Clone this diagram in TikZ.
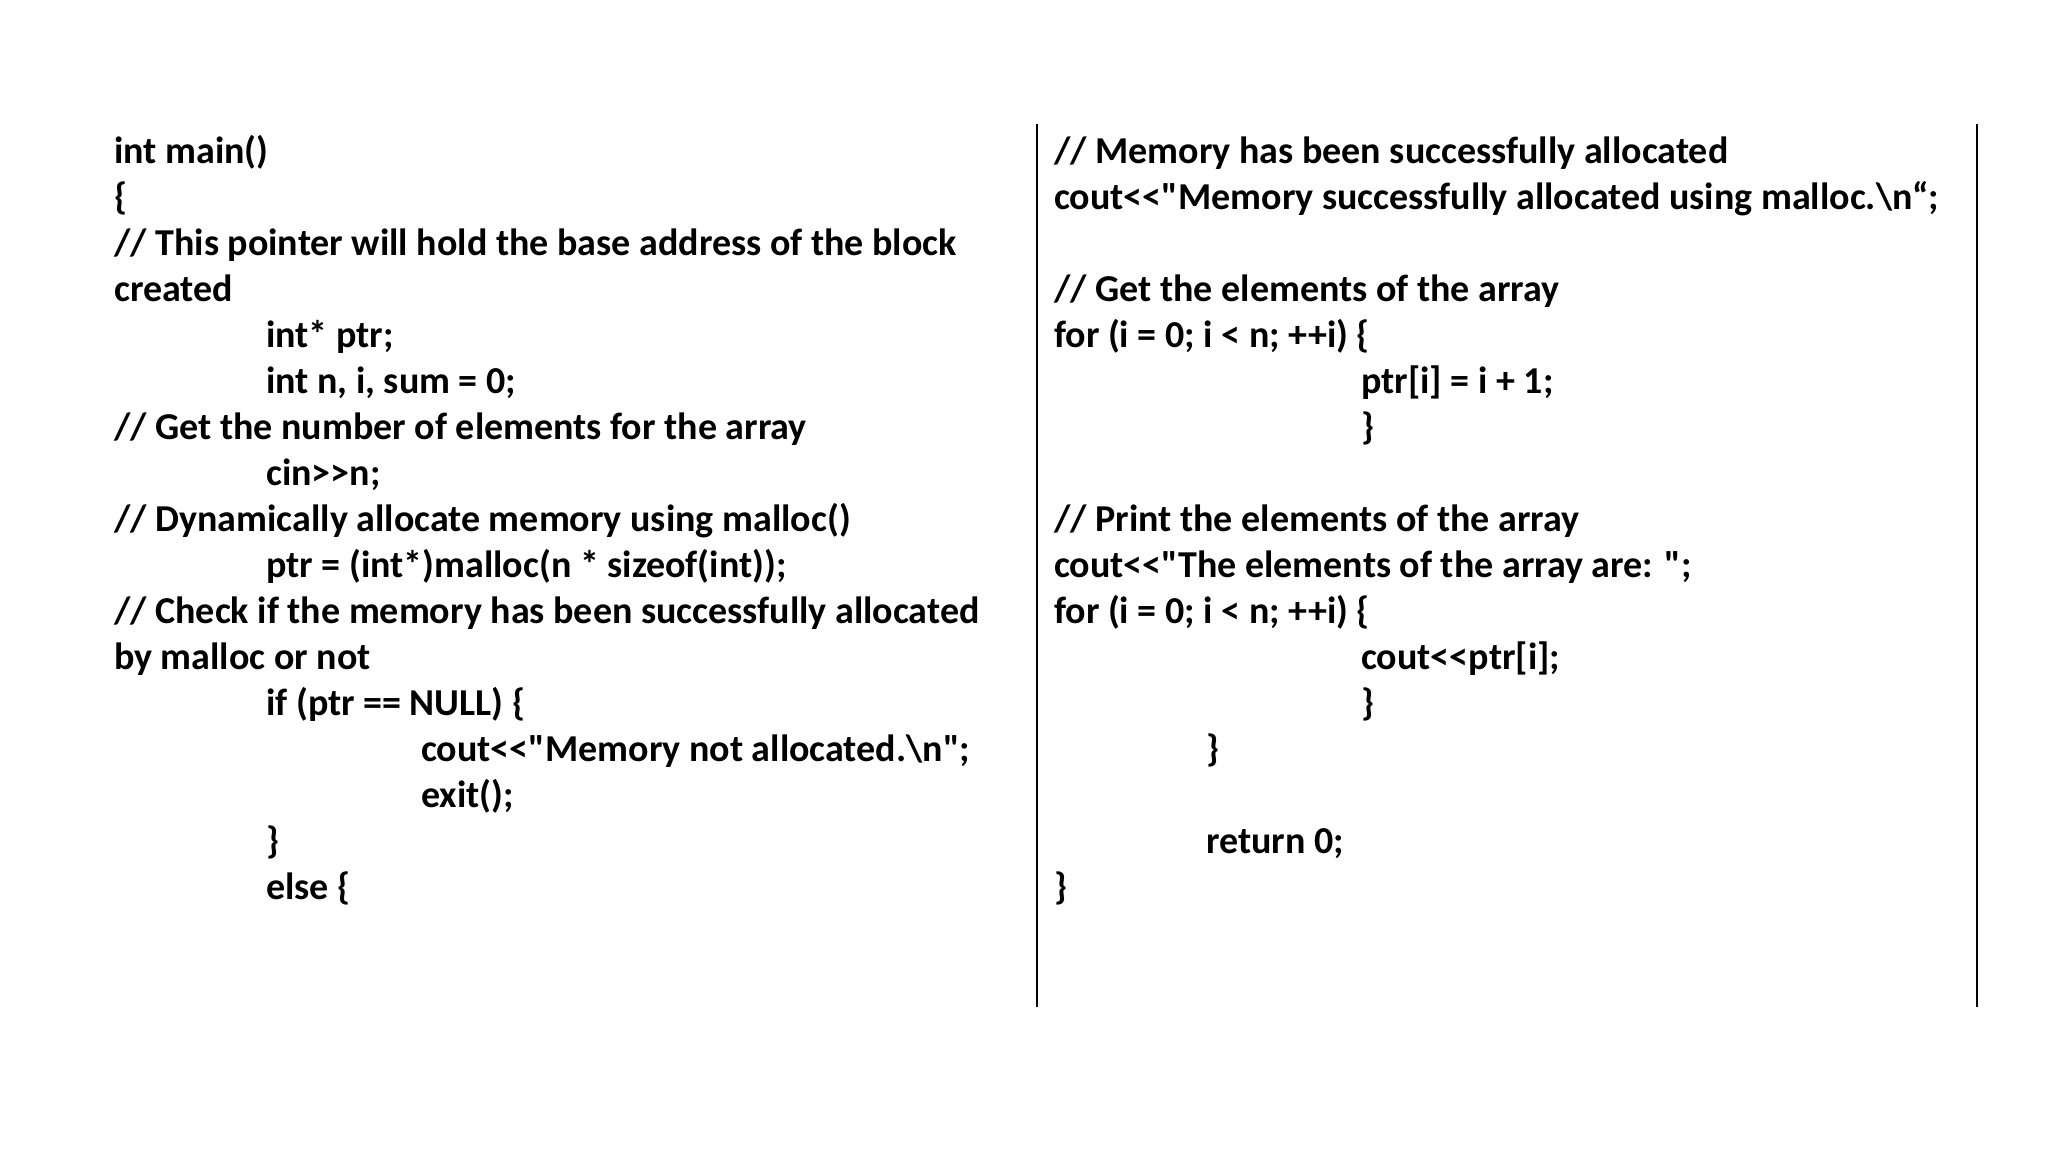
\documentclass[tikz,border=0pt]{standalone}
\usepackage{fontspec}
\newfontfamily\cf{Carlito}
\begin{document}
\begin{tikzpicture}[x=1pt,y=-1pt,
  code/.style={anchor=base west,inner sep=0pt,font=\cf\fontsize{38}{44}\selectfont\bfseries}]
\useasboundingbox (0,0) rectangle (2048,1152);
\fill[white] (0,0) rectangle (2048,1152);
\def\L#1#2#3#4{\node[code] (#1) at (#2,{163+46*#3}) {#4};}
% left column
\L{l0}{114}{0}{int main()}
\L{l1}{114}{1}{\{}
\L{l2}{114}{2}{// This pointer will hold the base address of the block}
\L{l3}{114}{3}{created}
\L{l4}{266}{4}{int* ptr;}
\L{l5}{266}{5}{int n, i, sum = 0;}
\L{l6}{114}{6}{// Get the number of elements for the array}
\L{l7}{266}{7}{cin>>n;}
\L{l8}{114}{8}{// Dynamically allocate memory using malloc()}
\L{l9}{266}{9}{ptr = (int*)malloc(n * sizeof(int));}
\L{l10}{114}{10}{// Check if the memory has been successfully allocated}
\L{l11}{114}{11}{by malloc or not}
\L{l12}{266}{12}{if (ptr == NULL) \{}
\L{l13}{421}{13}{cout<<"Memory not allocated.\textbackslash n";}
\L{l14}{421}{14}{exit();}
\L{l15}{266}{15}{\}}
\L{l16}{266}{16}{else \{}
% right column
\L{r0}{1054}{0}{// Memory has been successfully allocated}
\L{r1}{1054}{1}{cout<<"Memory successfully allocated using malloc.\textbackslash n“;}
\L{r3}{1054}{3}{// Get the elements of the array}
\L{r4}{1054}{4}{for (i = 0; i < n; ++i) \{}
\L{r5}{1361}{5}{ptr[i] = i + 1;}
\L{r6}{1361}{6}{\}}
\L{r8}{1054}{8}{// Print the elements of the array}
\L{r9}{1054}{9}{cout<<"The elements of the array are: ";}
\L{r10}{1054}{10}{for (i = 0; i < n; ++i) \{}
\L{r11}{1361}{11}{cout<<ptr[i];}
\L{r12}{1361}{12}{\}}
\L{r13}{1206}{13}{\}}
\L{r15}{1206}{15}{return 0;}
\L{r16}{1054}{16}{\}}
\coordinate (a1) at (1037,124); \coordinate (a2) at (1037,1007);
\coordinate (b1) at (1977,124); \coordinate (b2) at (1977,1007);
\draw[line width=2pt] (a1) -- (a2);
\draw[line width=2pt] (b1) -- (b2);
\end{tikzpicture}
\end{document}
